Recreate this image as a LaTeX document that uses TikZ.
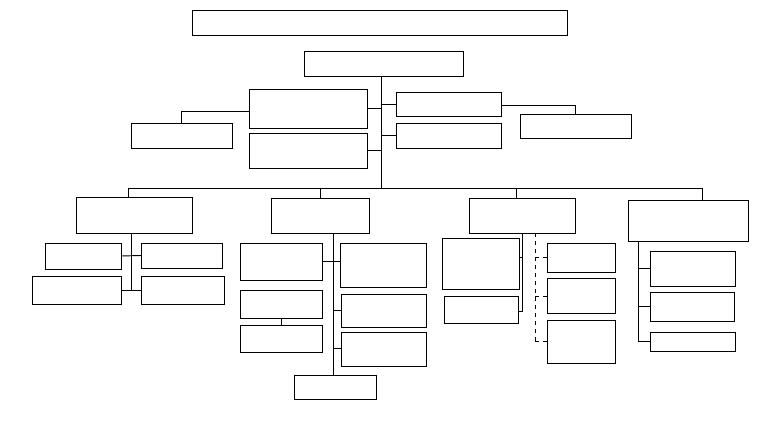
\documentclass[tikz,border=0pt]{standalone}
\usetikzlibrary{calc}
\begin{document}
\begin{tikzpicture}[x=0.75pt,y=-0.75pt,
  box/.style={draw,line width=0.7pt,inner sep=0pt,outer sep=0pt},
  link/.style={line width=0.7pt}]
  \useasboundingbox (0,0) rectangle (768,433);
  % boxes: name / x1 / y1 / x2 / y2
  \foreach \n/\a/\b/\c/\d in {title/192/10/567/35, top/304/51/463/76,
    la/249/89/367/128, lb/249/133/367/168, ra/396/92/501/116, rb/396/123/501/148,
    fl/131/123/232/148, fr/520/114/631/138,
    h1/76/197/192/233, a1/45/243/121/269, a2/141/243/222/268, a3/32/276/121/304, a4/141/276/224/304,
    h2/271/198/369/233, b1/240/243/322/280, b2/340/243/426/287, b3/240/290/322/318,
    b4/341/294/426/327, b5/240/325/322/352, b6/341/332/426/366, b7/294/375/376/399,
    h3/469/198/575/233, c1/442/238/519/289, c2/444/296/518/323,
    c3/547/243/615/272, c4/547/278/615/313, c5/547/320/615/363,
    h4/628/200/748/241, d1/650/251/735/286, d2/650/292/734/321, d3/650/332/735/351}
    \node[box,minimum width=(\c-\a)*0.75pt,minimum height=(\d-\b)*0.75pt] (\n) at ({(\a+\c)/2},{(\b+\d)/2}) {};
  % trunk
  \coordinate (bus) at (381,188);
  \draw[link] (top.south -| bus) -- (bus);
  \draw[link] (la.east) -- (la.east -| bus);
  \draw[link] (lb.east) -- (lb.east -| bus);
  \draw[link] (ra.west) -- (ra.west -| bus);
  \draw[link] (rb.west) -- (rb.west -| bus);
  \draw[link] (la.west |- 0,111) -| (fl.north);
  \draw[link] (ra.east |- 0,105) -| (fr.north);
  \draw[link] (128,188) -- (702,188);
  \draw[link] (h1.north -| 128,0) -- (128,188);
  \draw[link] (h2.north) -- (h2.north |- bus);
  \draw[link] (h3.north -| 516,0) -- (516,188);
  \draw[link] (h4.north -| 702,0) -- (702,188);
  % column 1
  \draw[link] (131,233) -- (131,290);
  \draw[link] (a1.east) -- (a2.west);
  \draw[link] (a3.east) -- (a4.west);
  % column 2
  \draw[link] (333,233) -- (b7.north -| 333,0);
  \draw[line width=1.3pt] (b1.east) -- (b1.east -| 333,0) -- (b2.west |- b1.east);
  \draw[link] (b3.south) -- (b5.north);
  \draw[link] (333,310) -- (b4.west |- 0,310);
  \draw[link] (333,348) -- (b6.west |- 0,348);
  % column 3
  \draw[link] (522,233) -- (522,311) -- (c2.east |- 0,311);
  \draw[link] (c1.east |- 0,257) -- (522,257);
  \draw[link,dashed] (535,233) -- (535,341);
  \foreach \y in {257,296,341} \draw[link,dashed] (535,\y) -- (547,\y);
  % column 4
  \draw[link] (638,241) -- (638,341);
  \foreach \y in {268,306,341} \draw[link] (638,\y) -- (650,\y);
\end{tikzpicture}
\end{document}
